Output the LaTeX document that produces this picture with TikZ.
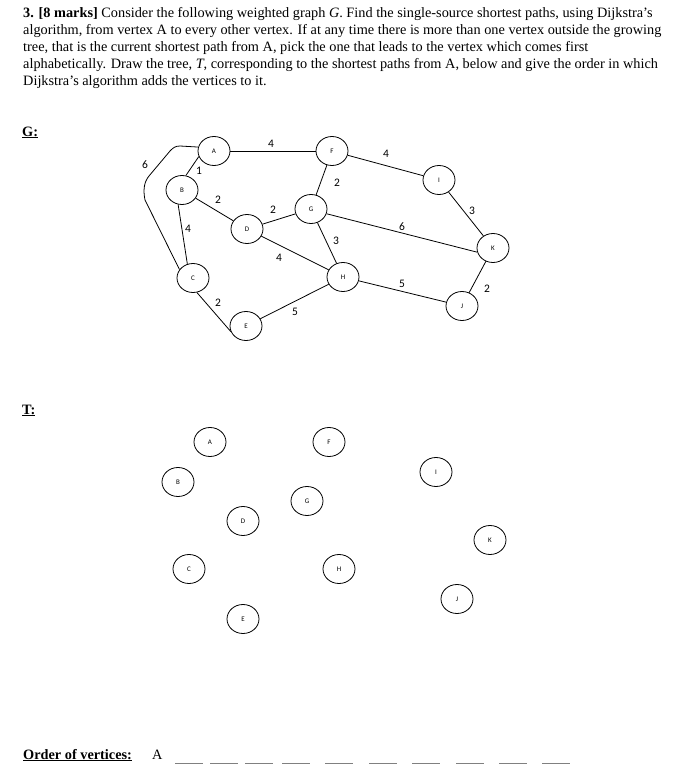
\documentclass[tikz,border=0pt]{standalone}
\usepackage{fontspec}
\setmainfont{Liberation Serif}
\newfontfamily\calibri{Carlito}
\usetikzlibrary{shapes.geometric}

\begin{document}
\begin{tikzpicture}[x=1pt, y=-1pt,
    vertex/.style={draw, ellipse, minimum width=32pt, minimum height=29pt, inner sep=0pt, line width=0.8pt, font=\calibri\fontsize{7}{8}\selectfont},
    edge/.style={line width=0.8pt},
    weight/.style={font=\calibri\fontsize{11.5}{12}\selectfont, inner sep=0pt},
    heading/.style={font=\bfseries\fontsize{14.3}{17}\selectfont, inner sep=0pt, anchor=base west},
    blank/.style={draw=gray, line width=0.8pt},
]
    \useasboundingbox (0,0) rectangle (682,776);

    % question text
    \node[anchor=north west, align=left, inner sep=0pt, font=\fontsize{14.3}{17}\selectfont] (question) at (23,7)
        {\textbf{3. [8 marks]} Consider the following weighted graph \textit{G}. Find the single-source shortest paths, using Dijkstra’s\\
         algorithm, from vertex A to every other vertex. If at any time there is more than one vertex outside the growing\\
         tree, that is the current shortest path from A, pick the one that leads to the vertex which comes first\\
         alphabetically. Draw the tree, \textit{T}, corresponding to the shortest paths from A, below and give the order in which\\
         Dijkstra’s algorithm adds the vertices to it.};

    % graph G
    \node[heading] (glabel) at (22,136) {\underline{G:}};
    \node[vertex] (gA) at (214,151) {A};
    \node[vertex] (gB) at (182,190) {B};
    \node[vertex] (gC) at (193,278) {C};
    \node[vertex] (gD) at (247,229) {D};
    \node[vertex] (gE) at (246,326) {E};
    \node[vertex] (gF) at (332,151) {F};
    \node[vertex] (gG) at (311,209) {G};
    \node[vertex] (gH) at (343,277) {H};
    \node[vertex] (gI) at (439,180) {I};
    \node[vertex] (gJ) at (462,306) {J};
    \node[vertex] (gK) at (493,248) {K};

    \draw[edge] (gA) -- (gF);
    \draw[edge] (gA.200) -- (gB.75);
    \draw[edge] (gA.166) -- (180,146) .. controls (175,146) and (173,148) .. (170,151) -- (149,176)
        .. controls (144,182) and (143,190) .. (145,200) -- (gC.148);
    \draw[edge] (gB.255) -- (gC.112);
    \draw[edge] (gB) -- (gD);
    \draw[edge] (gC.285) -- (gE.200);
    \draw[edge] (gD) -- (gG);
    \draw[edge] (gD) -- (gH);
    \draw[edge] (gE) -- (gH);
    \draw[edge] (gF) -- (gG);
    \draw[edge] (gF) -- (gI);
    \draw[edge] (gG) -- (gH);
    \draw[edge] (gG.343) -- (gK.195);
    \draw[edge] (gH) -- (gJ);
    \draw[edge] (gI) -- (gK);
    \draw[edge] (gK) -- (gJ);

    \node[weight] (wAF) at (271,144) {4};
    \node[weight] (wAB) at (199,171) {1};
    \node[weight] (wAC) at (145,165) {6};
    \node[weight] (wBD) at (218,200) {2};
    \node[weight] (wBC) at (188,229) {4};
    \node[weight] (wDG) at (273,210) {2};
    \node[weight] (wFG) at (337,183) {2};
    \node[weight] (wDH) at (279,258) {4};
    \node[weight] (wGH) at (336,241) {3};
    \node[weight] (wCE) at (218,303) {2};
    \node[weight] (wEH) at (295,312) {5};
    \node[weight] (wFI) at (386,154) {4};
    \node[weight] (wGK) at (402,227) {6};
    \node[weight] (wIK) at (472,211) {3};
    \node[weight] (wHJ) at (402,284) {5};
    \node[weight] (wKJ) at (487,289) {2};

    % tree T
    \node[heading] (tlabel) at (22,414) {\underline{T:}};
    \node[vertex] (tA) at (210,442) {A};
    \node[vertex] (tB) at (178,482) {B};
    \node[vertex] (tC) at (189,569) {C};
    \node[vertex] (tD) at (243,521) {D};
    \node[vertex] (tE) at (243,619) {E};
    \node[vertex] (tF) at (329,442) {F};
    \node[vertex] (tG) at (307,501) {G};
    \node[vertex] (tH) at (339,569) {H};
    \node[vertex] (tI) at (436,472) {I};
    \node[vertex] (tJ) at (457,599) {J};
    \node[vertex] (tK) at (490,540) {K};

    % order of vertices
    \node[heading] (order) at (23,759) {\underline{Order of vertices:}};
    \node[anchor=base west, inner sep=0pt, font=\fontsize{14.3}{17}\selectfont] (first) at (152,759) {A};
    \foreach \x in {175,210,245,282,325,369,412,456,499,542}
        \draw[blank] (\x,763) -- ++(28,0);
\end{tikzpicture}
\end{document}
